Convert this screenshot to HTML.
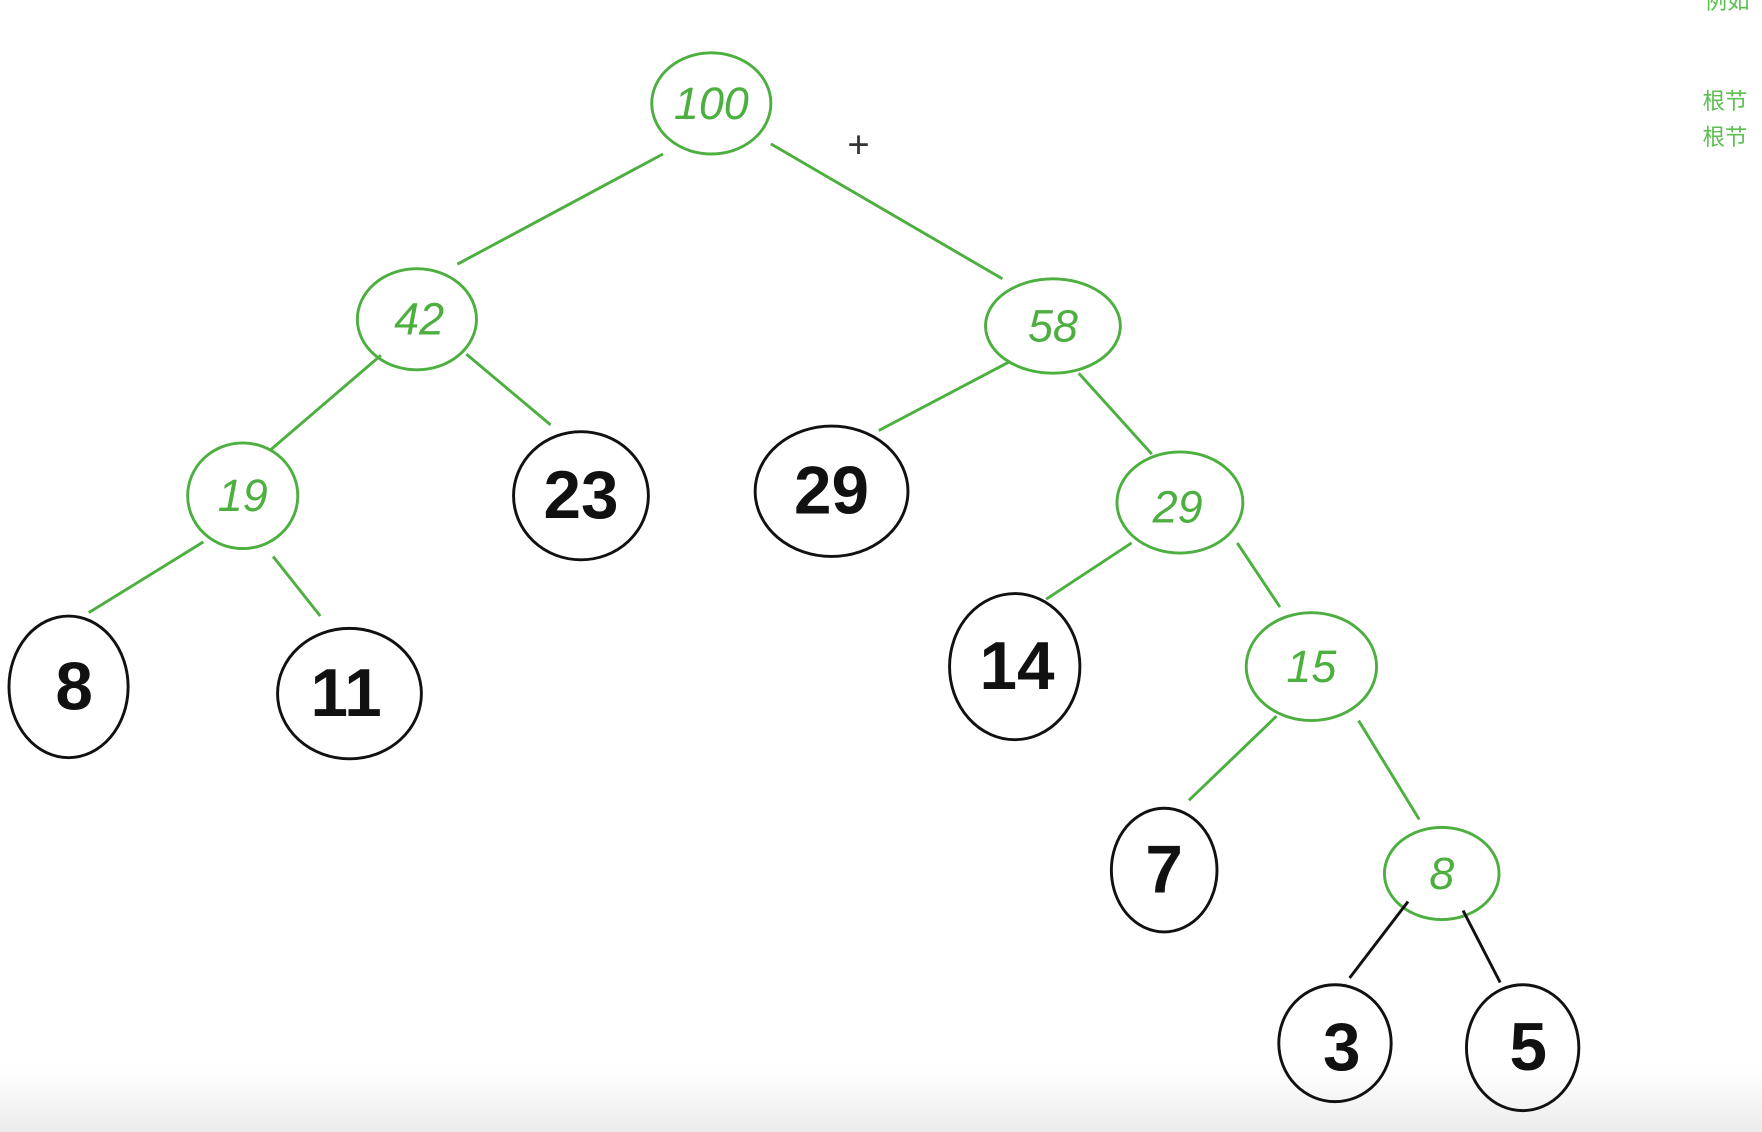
<!DOCTYPE html>
<html><head><meta charset="utf-8"><style>
html,body{margin:0;padding:0;background:#fff;}
svg{display:block}
.g{fill:none;stroke:#4caf3f;stroke-width:2.6}
.k{fill:none;stroke:#111;stroke-width:2.6}
.gt{font-family:"Liberation Sans",sans-serif;fill:#4caf3f;font-size:40px;text-anchor:middle;dominant-baseline:central;font-style:italic}
.kt{font-family:"Liberation Sans",sans-serif;fill:#111;font-size:60px;font-weight:bold;text-anchor:middle;dominant-baseline:central}
.cj{font-family:"Liberation Sans","Noto Sans CJK SC",sans-serif;fill:#5cbf4f;font-size:20px}
</style></head><body>
<svg width="1762" height="1132" viewBox="0 0 1568 1007" preserveAspectRatio="none">
<defs><linearGradient id="bg" x1="0" y1="0" x2="0" y2="1"><stop offset="0" stop-color="#fff"/><stop offset="1" stop-color="#ececec"/></linearGradient></defs>
<rect x="0" y="950" width="1568" height="57" fill="url(#bg)"/>
<text class="cj" x="1517" y="8">例如</text>
<text class="cj" x="1515" y="97">根节</text>
<text class="cj" x="1515" y="129">根节</text>
<text x="764" y="140" font-family="Liberation Sans" font-size="34" fill="#333" text-anchor="middle">+</text>
<g class="g">
<line x1="590" y1="137" x2="407" y2="235"/>
<line x1="686" y1="128" x2="892" y2="248"/>
<line x1="339" y1="316" x2="241" y2="400"/>
<line x1="415" y1="315" x2="490" y2="378"/>
<line x1="898" y1="322" x2="782" y2="383"/>
<line x1="960" y1="332" x2="1025" y2="404"/>
<line x1="181" y1="482" x2="79" y2="545"/>
<line x1="243" y1="495" x2="285" y2="548"/>
<line x1="1007" y1="483" x2="931" y2="533"/>
<line x1="1101" y1="483" x2="1139" y2="540"/>
<line x1="1136" y1="637" x2="1058" y2="712"/>
<line x1="1209" y1="641" x2="1263" y2="729"/>
<ellipse cx="633" cy="92" rx="53" ry="45"/>
<ellipse cx="371" cy="284" rx="53" ry="45"/>
<ellipse cx="937" cy="290" rx="60" ry="42"/>
<ellipse cx="216" cy="441" rx="49" ry="47"/>
<ellipse cx="1050" cy="447" rx="56" ry="45"/>
<ellipse cx="1167" cy="593" rx="58" ry="48"/>
<ellipse cx="1283" cy="777" rx="51" ry="41"/>
</g>
<g class="k">
<line x1="1253" y1="802" x2="1201" y2="870"/>
<line x1="1302" y1="810" x2="1335" y2="874"/>
<ellipse cx="517" cy="441" rx="60" ry="57"/>
<ellipse cx="740" cy="437" rx="68" ry="58"/>
<ellipse cx="61" cy="611" rx="53" ry="63"/>
<ellipse cx="311" cy="617" rx="64" ry="58"/>
<ellipse cx="903" cy="593" rx="58" ry="65"/>
<ellipse cx="1036" cy="774" rx="47" ry="55"/>
<ellipse cx="1188" cy="928" rx="50" ry="52"/>
<ellipse cx="1355" cy="932" rx="50" ry="56"/>
</g>
<text class="gt" x="633" y="92">100</text>
<text class="gt" x="373" y="284">42</text>
<text class="gt" x="937" y="290">58</text>
<text class="gt" x="216" y="441">19</text>
<text class="gt" x="1048" y="451">29</text>
<text class="gt" x="1167" y="593">15</text>
<text class="gt" x="1283" y="777">8</text>
<text class="kt" x="517" y="441">23</text>
<text class="kt" x="740" y="437">29</text>
<text class="kt" x="66" y="611">8</text>
<text class="kt" x="308" y="617">11</text>
<text class="kt" x="905" y="593">14</text>
<text class="kt" x="1036" y="774">7</text>
<text class="kt" x="1194" y="932">3</text>
<text class="kt" x="1360" y="932">5</text>
</svg>
</body></html>
